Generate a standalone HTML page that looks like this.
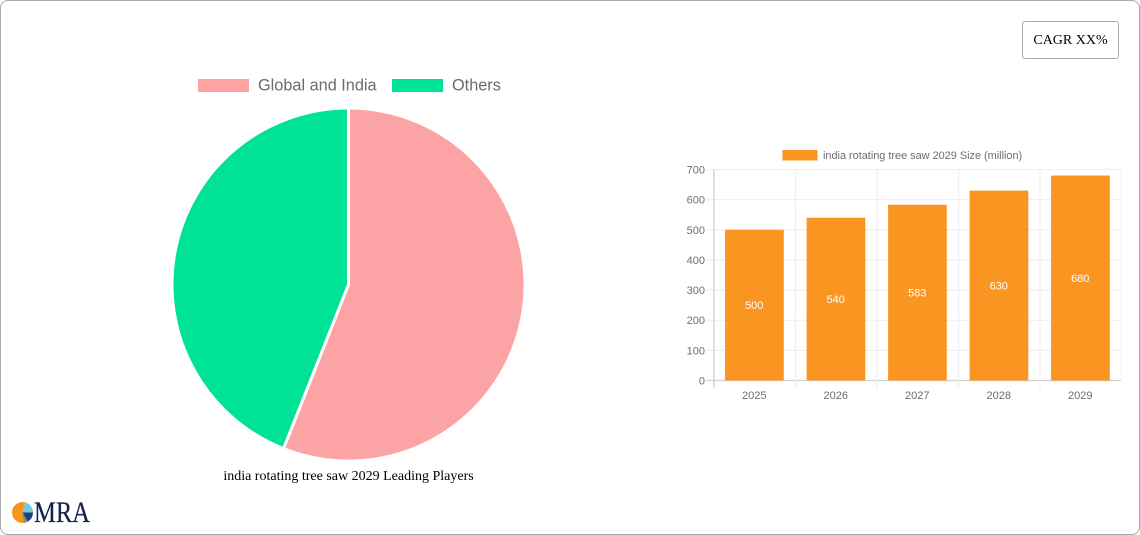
<!DOCTYPE html>
<html>
<head>
<meta charset="utf-8">
<style>
html,body{margin:0;padding:0;background:#fff;}
#frame{position:relative;width:1138px;height:533px;border:1px solid #aaa;border-radius:8px;overflow:hidden;background:#fff;}
#cagr{position:absolute;left:1021px;top:20px;width:95px;padding-top:1px;box-sizing:content-box;height:35px;border:1px solid #aaa;border-radius:3px;font:14px "Liberation Serif",serif;color:#000;display:flex;align-items:center;justify-content:center;}
#pie-title{position:absolute;left:147.5px;width:400px;top:465.5px;text-align:center;font:14px/20px "Liberation Serif",serif;color:#000;}
svg{position:absolute;left:-1px;top:-1px;}
text{font-family:"Liberation Sans",sans-serif;}
</style>
</head>
<body>
<div id="frame">
<svg id="chart" width="1140" height="535" viewBox="0 0 1140 535" xmlns="http://www.w3.org/2000/svg">
  <defs>
    <filter id="soft" x="0" y="0" width="100%" height="100%"><feGaussianBlur stdDeviation="0.3"/></filter>
  </defs>
  <g id="pie"></g>
  <g id="bars" filter="url(#soft)"></g>
  <g id="logo" filter="url(#soft)">
    <path d="M25 502.3 A10.5 10.5 0 1 0 27 522 L22.5 512.5 Z" fill="#f7941d"/>
    <path d="M25 502.3 A10.5 10.5 0 0 1 33 512.5 L22.5 512.5 Z" fill="#7cc4e4"/>
    <path d="M22.5 512.5 L33 512.5 A10.5 10.5 0 0 1 27.5 521.7 Z" fill="#14457a"/>
    <path d="M22.5 512.5 L27.5 521.7 A10.5 10.5 0 0 1 24 523 Z" fill="#8a8a8a"/>
    <text x="34" y="522" textLength="56" lengthAdjust="spacingAndGlyphs" style="font-family:'Liberation Serif',serif;font-size:30px;" fill="#16204f" stroke="#16204f" stroke-width="0.25">MRA</text>
  </g>
</svg>
<div id="cagr">CAGR XX%</div>
<div id="pie-title">india rotating tree saw 2029 Leading Players</div>
</div>
<script>
const pieLabels = ["Global and India", "Others"];
const pieValues = [56, 44];
const pieColors = ["#fba3a5", "#00e396"];
const barCategories = ["2025", "2026", "2027", "2028", "2029"];
const barValues = [500, 540, 583, 630, 680];
const barTicks = [0, 100, 200, 300, 400, 500, 600, 700];
const barSeriesName = "india rotating tree saw 2029 Size (million)";

const NS = "http://www.w3.org/2000/svg";
function mk(parent, tag, attrs, txt) {
  const el = document.createElementNS(NS, tag);
  for (const k in attrs) el.setAttribute(k, attrs[k]);
  if (txt !== undefined) el.textContent = txt;
  parent.appendChild(el);
  return el;
}

/* Pie */
const pieG = document.getElementById("pie");
const cx = 348.5, cy = 284.5, R = 176.5;
const pieTotal = pieValues.reduce((a, b) => a + b, 0);
function pol(frac) {
  const a = frac * 2 * Math.PI;
  return [cx + R * Math.sin(a), cy - R * Math.cos(a)];
}
let acc = 0;
pieValues.forEach((v, i) => {
  const f = v / pieTotal;
  const p0 = pol(acc), p1 = pol(acc + f);
  const large = f > 0.5 ? 1 : 0;
  const slice = mk(pieG, "path", {
    d: `M${cx} ${cy} L${p0[0]} ${p0[1]} A${R} ${R} 0 ${large} 1 ${p1[0]} ${p1[1]} Z`,
    fill: pieColors[i], stroke: "#fff", "stroke-width": 3, "stroke-linejoin": "miter"
  });
  
  
  acc += f;
});
const legendX = [198, 392];
pieLabels.forEach((l, i) => {
  const sw = mk(pieG, "rect", { x: legendX[i], y: 79, width: 51, height: 13, fill: pieColors[i] });
  
  
  const t = mk(pieG, "text", { x: legendX[i] + 60, y: 90.5, "font-size": 16.3, fill: "#6b6b6b" }, l);
  
  
});

/* Bars */
const barG = document.getElementById("bars");
const x0 = 714, x1 = 1121.5, yBase = 380.5, yTop = 169.5;
const yMax = barTicks[barTicks.length - 1];
const yScale = v => yBase - (v / yMax) * (yBase - yTop);
const band = (x1 - x0) / barCategories.length;
const xBand = i => x0 + i * band;
barTicks.forEach(t => {
  const y = yScale(t);
  const isBase = t === 0;
  const g = mk(barG, "line", { x1: x0 - 8, x2: x1, y1: y, y2: y, stroke: isBase ? "#cfcfcf" : "#f0f0f0", "stroke-width": 1.3 });
  
  
  const l = mk(barG, "text", { x: x0 - 9, y: y + 4, "font-size": 11, fill: "#6e6e6e", "text-anchor": "end" }, String(t));
  
  
});
for (let i = 0; i <= barCategories.length; i++) {
  const x = xBand(i);
  const g = mk(barG, "line", { x1: x, x2: x, y1: yTop, y2: yBase + 8, stroke: i === 0 ? "#cfcfcf" : "#f0f0f0", "stroke-width": 1.3 });
  
  
}
const barW = band * 0.72;
barValues.forEach((v, i) => {
  const c = xBand(i) + band / 2;
  const y = yScale(v);
  const b = mk(barG, "rect", { x: c - barW / 2 - 0.3, y: y, width: barW, height: yBase - y, fill: "#fa9520" });
  
  
  const lab = mk(barG, "text", { x: c - 0.5, y: (y + yBase) / 2 + 4, "font-size": 11, fill: "#fff", "text-anchor": "middle" }, String(v));
  
  
  const cat = mk(barG, "text", { x: c - 0.5, y: 399, "font-size": 11, fill: "#6e6e6e", "text-anchor": "middle" }, barCategories[i]);
  
  
});
const legRect = mk(barG, "rect", { x: 782.5, y: 150, width: 35, height: 10.5, fill: "#fa9520" });


const legText = mk(barG, "text", { x: 823, y: 159, "font-size": 10.9, fill: "#6e6e6e" }, barSeriesName);


</script>
</body>
</html>
